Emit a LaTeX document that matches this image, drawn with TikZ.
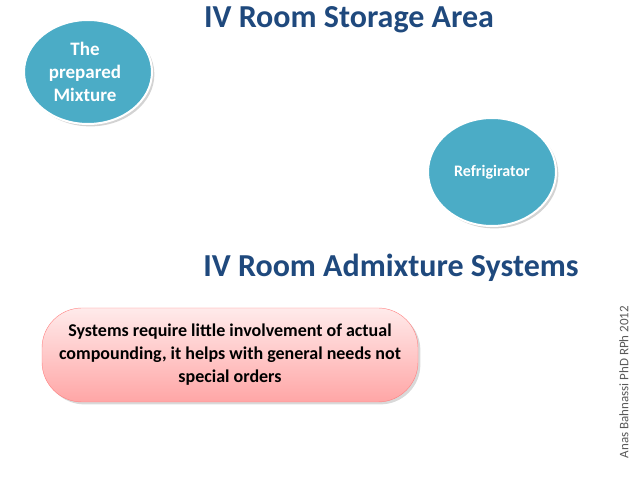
\documentclass[tikz,border=0pt]{standalone}
\usepackage{fontspec}
\setmainfont{Carlito}
\usetikzlibrary{shadows,shapes.geometric}
\definecolor{ttl}{RGB}{31,73,125}
\definecolor{bubc}{RGB}{75,172,198}
\begin{document}
\begin{tikzpicture}[x=1pt,y=-1pt,
  title/.style={font=\fontsize{32}{36}\selectfont\bfseries,text=ttl},
  bub/.style={ellipse,draw=white,line width=2pt,fill=bubc,text=white,
    align=center,drop shadow={opacity=0.35}},
  pbox/.style={rounded corners=40pt,draw=red!50,top color=red!8,bottom color=red!35,
    font=\fontsize{18}{23}\selectfont\bfseries,align=center,drop shadow={opacity=0.3}}]
\useasboundingbox (0,0) rectangle (638,478);
\node[title] (t1) at (349,20) {IV Room Storage Area};
\node[bub,minimum width=128pt,minimum height=104pt,inner sep=0pt] (m) at (88,72) {};
\node[font=\fontsize{19}{23}\selectfont\bfseries,text=white,align=center] (mt) at (85,72) {The\\prepared\\Mixture};
\node[bub,minimum width=128pt,minimum height=108pt,inner sep=0pt] (r) at (492,172) {};
\node[font=\fontsize{16}{19}\selectfont\bfseries,text=white] (rt) at (492,172) {Refrigirator};
\node[title] (t2) at (391,268) {IV Room Admixture Systems};
\node[pbox,minimum width=376pt,minimum height=94pt] (b) at (230,355) {Systems require little involvement of actual\\compounding, it helps with general needs not\\special orders};
\node[rotate=90,font=\fontsize{13}{15}\selectfont,text=black!65] (c) at (624,382) {Anas Bahnassi PhD RPh 2012};
\end{tikzpicture}
\end{document}
